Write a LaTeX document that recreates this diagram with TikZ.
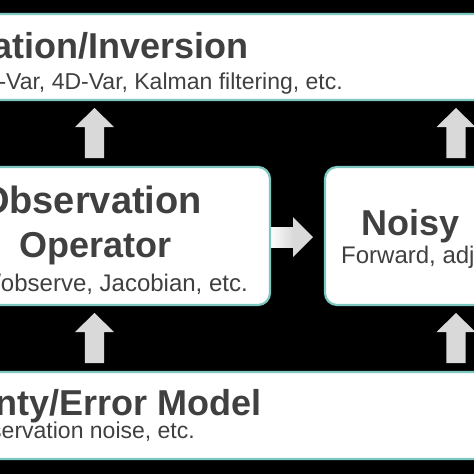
\documentclass[tikz,border=0pt]{standalone}
\usepackage{fontspec}
\setmainfont{Liberation Sans}
\definecolor{txt}{HTML}{404040}
\definecolor{arr}{HTML}{D9D9D9}
\definecolor{tealb}{HTML}{7CC8C0}
\begin{document}
\begin{tikzpicture}[x=1pt,y=-1pt,
  box/.style={draw=tealb, line width=2.2pt, fill=white, rounded corners=12pt},
  ttl/.style={font=\fontsize{36}{40}\selectfont\bfseries, text=txt, inner sep=0pt},
  sub/.style={font=\fontsize{23}{26}\selectfont, text=txt, inner sep=0pt},
  blk/.style={fill=arr, draw=none}]
\useasboundingbox (0,0) rectangle (474,474);
\clip (0,0) rectangle (474,474);
\fill[black] (0,0) rectangle (474,474);
% boxes
\draw[box] (-60,14) rectangle (540,100);
\draw[box] (-70,167) rectangle (270,305);
\draw[box] (325,167) rectangle (640,305);
\draw[box] (-60,372) rectangle (540,459);
% up arrows
\foreach \cx/\ty in {94.5/108, 456/108, 94.5/313, 456/313}{
  \fill[blk] (\cx,\ty) -- (\cx+19.5,\ty+19) -- (\cx+9.7,\ty+19) -- (\cx+9.7,\ty+50)
     -- (\cx-9.7,\ty+50) -- (\cx-9.7,\ty+19) -- (\cx-19.5,\ty+19) -- cycle;
}
% right arrow
\shade[left color=white!92!arr, right color=arr] (271,227) rectangle (293.5,247);
\fill[blk] (293,227) -- (293,217) -- (313,237) -- (293,257) -- (293,247) -- cycle;
% texts
\node[ttl, anchor=base east] (t1) at (249,58) {ation/Inversion};
\node[sub, anchor=base east] (s1) at (343,89) {-Var, 4D-Var, Kalman filtering, etc.};
\node[ttl, font=\fontsize{38}{42}\selectfont\bfseries, anchor=base east] (t2) at (202,213) {Observation};
\node[ttl, anchor=base east] (t3) at (172,257) {Operator};
\node[sub, font=\fontsize{24}{27}\selectfont, anchor=base east] (s2) at (248,291) {/observe, Jacobian, etc.};
\node[ttl, anchor=base west] (t4) at (361,235) {Noisy};
\node[sub, font=\fontsize{24}{27}\selectfont, anchor=base west] (s3) at (341,263) {Forward, adj};
\node[ttl, anchor=base east] (t5) at (262,415) {nty/Error Model};
\node[sub, anchor=base east] (s4) at (195,438) {servation noise, etc.};
\end{tikzpicture}
\end{document}
